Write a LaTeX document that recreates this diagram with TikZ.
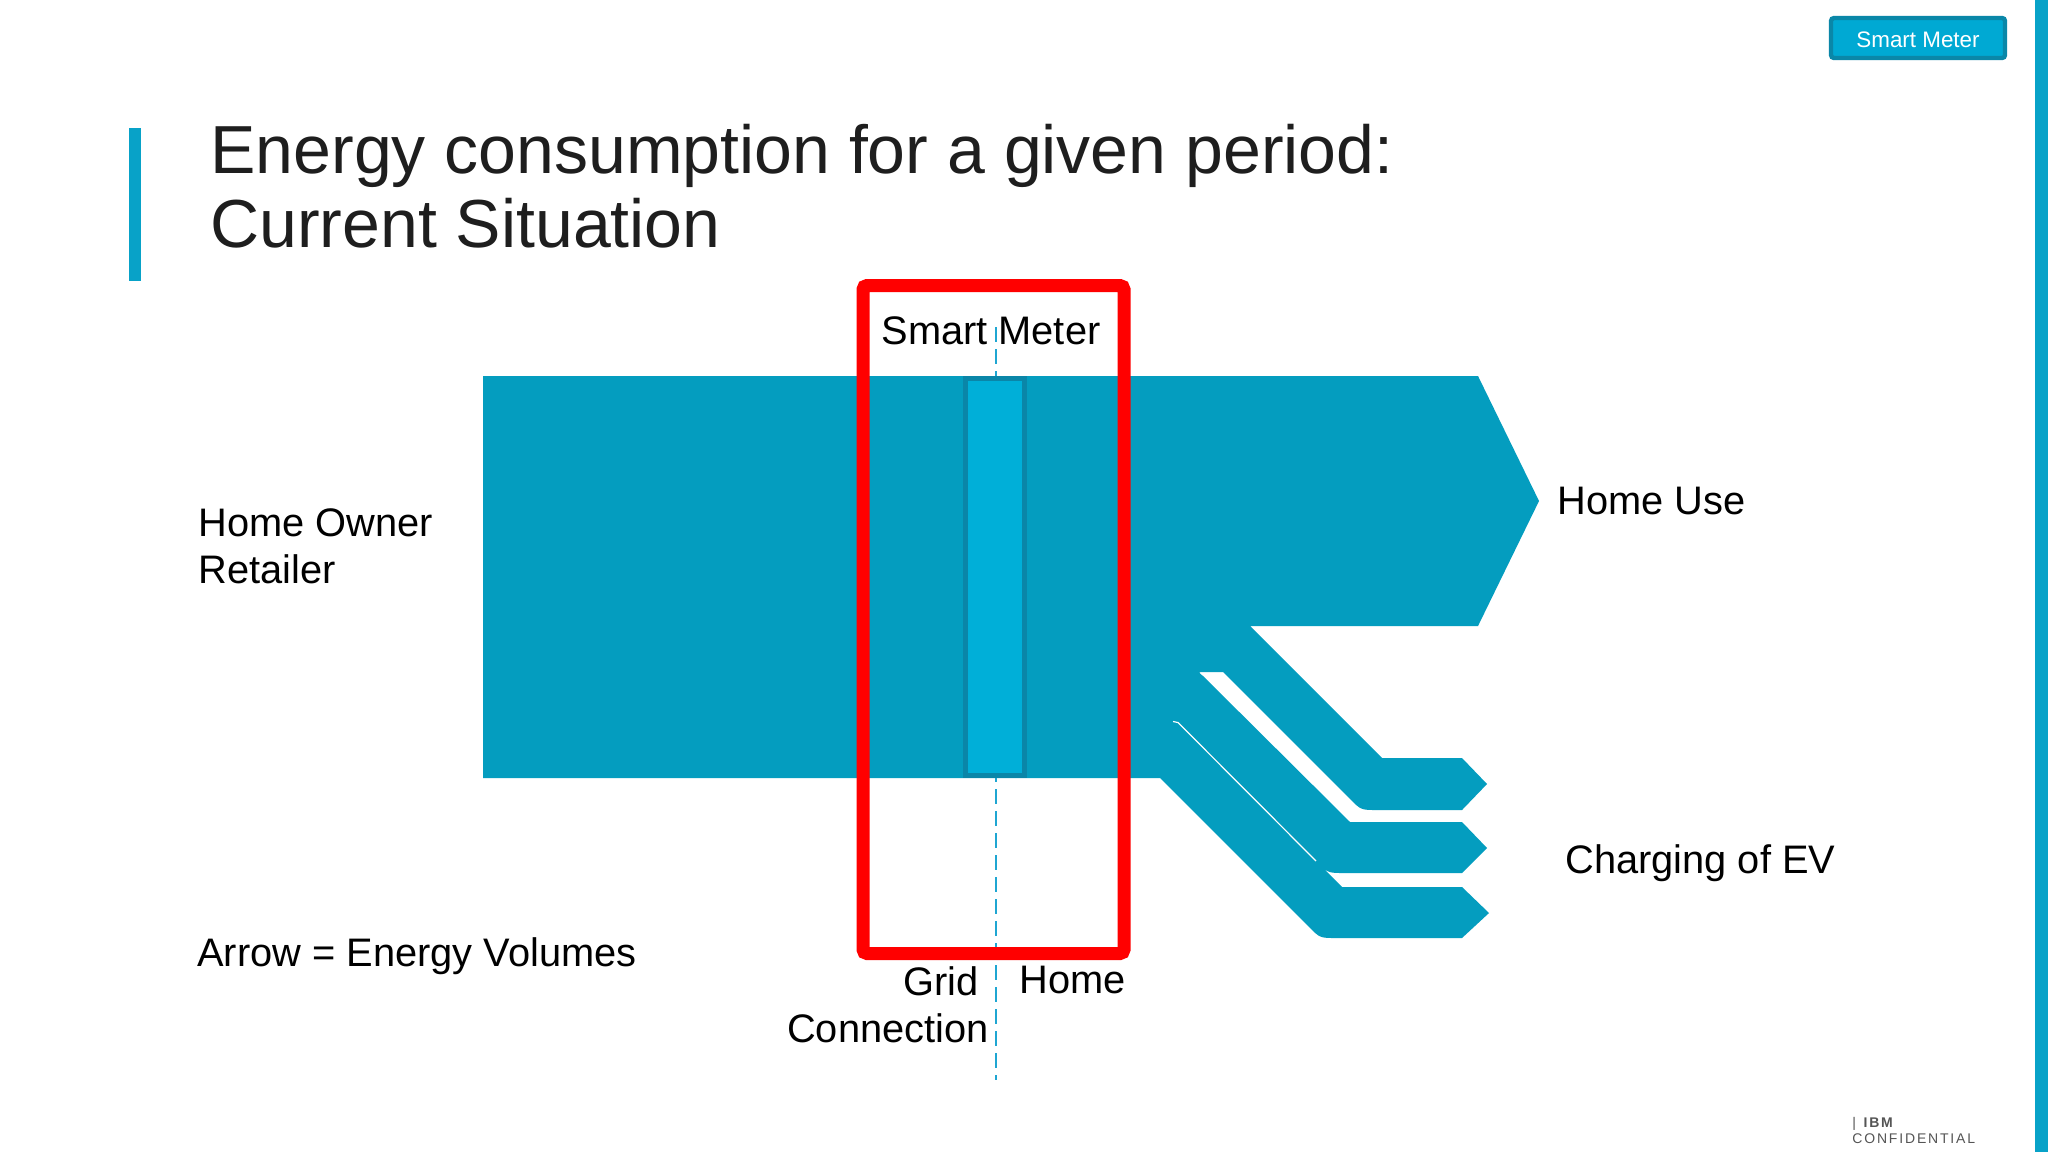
\documentclass[tikz,border=0pt]{standalone}
\usepackage{fontspec}
\setmainfont{Liberation Sans}
\newfontfamily\spacedfont[LetterSpace=13]{Liberation Sans}
\definecolor{bandc}{HTML}{049DBF}
\definecolor{meterf}{HTML}{00AFD8}
\definecolor{meterb}{HTML}{0A86A8}
\definecolor{accentc}{HTML}{08A2C8}
\definecolor{dashc}{HTML}{1FA6D2}
\definecolor{btnf}{HTML}{00A9D3}
\definecolor{btnb}{HTML}{0A87A8}
\definecolor{boxred}{HTML}{FF0000}
\definecolor{titlec}{HTML}{1E1E1E}
\definecolor{greyc}{HTML}{555555}
\begin{document}
\begin{tikzpicture}[x=0.5pt,y=-0.5pt,
  lbl/.style={inner sep=0pt, font=\fontsize{19.9}{23}\selectfont, text=black},
  ttl/.style={inner sep=0pt, font=\fontsize{34}{40}\selectfont, text=titlec},
  dashline/.style={draw=dashc, line width=1.2pt, dash pattern=on 7.5pt off 3.5pt},
  band/.style={fill=bandc}]
\path[use as bounding box, fill=white] (0,0) rectangle (2048,1152);
% right edge bar and left accent
\fill[accentc] (2035,0) rectangle (2048,1152);
\fill[accentc] (129,128) rectangle (141,281);
% title
\node[ttl, anchor=base west] (t1) at (210,173) {Energy consumption for a given period:};
\node[ttl, anchor=base west] (t2) at (210,247) {Current Situation};
% button
\draw[fill=btnf, draw=btnb, line width=2.2pt, rounded corners=1.5pt] (1831,18) rectangle (2005,58);
\node[inner sep=0pt, anchor=base, text=white, font=\fontsize{11.2}{13}\selectfont] (btn) at (1918,47) {Smart Meter};
% dashed line
\draw[dashline] (996,327) -- (996,1080);
% energy band
\fill[band] (483,376) -- (1478,376) -- (1539,501) -- (1478,626) -- (1250,626)
  -- (1382,758) -- (1462,758) -- (1487,784) -- (1462,810)
  -- (1377,810) .. controls (1361,810) .. (1350,799)
  -- (1223,672) -- (1204,672) .. controls (1198,672) .. (1203,676)
  -- (1350,822) -- (1462,822) -- (1487,848) -- (1462,873)
  -- (1344,873) .. controls (1328,873) .. (1317,862)
  -- (1342,887) -- (1462,887) -- (1489,913) -- (1462,938)
  -- (1336,938) .. controls (1320,938) .. (1309,927)
  -- (1160,778) -- (483,778) -- cycle;
\draw[white, line width=0.6pt] (1173,721.5) -- (1178,722.5) -- (1316,861);
% meter bar
\draw[draw=meterb, fill=meterf, line width=2.5pt] (965.5,378.5) rectangle (1024.5,775.5);
% red box
\draw[boxred, line width=6.5pt, rounded corners=2pt] (863,285.5) rectangle (1124,953.5);
% labels
\node[lbl, anchor=base] (sm) at (991,344) {Smart Meter};
\node[lbl, anchor=base west] (ho1) at (198,536) {Home Owner};
\node[lbl, anchor=base west] (ho2) at (198,583) {Retailer};
\node[lbl, anchor=base west] (hu) at (1557,514) {Home Use};
\node[lbl, anchor=base west] (ev) at (1565,873) {Charging of EV};
\node[lbl, anchor=base west] (av) at (197,966) {Arrow = Energy Volumes};
\node[lbl, anchor=base east] (g1) at (979,995) {Grid};
\node[lbl, anchor=base east] (g2) at (989,1042) {Connection};
\node[lbl, anchor=base west] (hm) at (1019,993) {Home};
% footer
\node[inner sep=0pt, anchor=base west, text=greyc, font=\spacedfont\fontsize{7}{8}\selectfont] (ibm) at (1852,1127) {| \textbf{IBM}};
\node[inner sep=0pt, anchor=base west, text=greyc, font=\spacedfont\fontsize{7}{8}\selectfont] (conf) at (1852,1143) {CONFIDENTIAL};
\end{tikzpicture}
\end{document}
